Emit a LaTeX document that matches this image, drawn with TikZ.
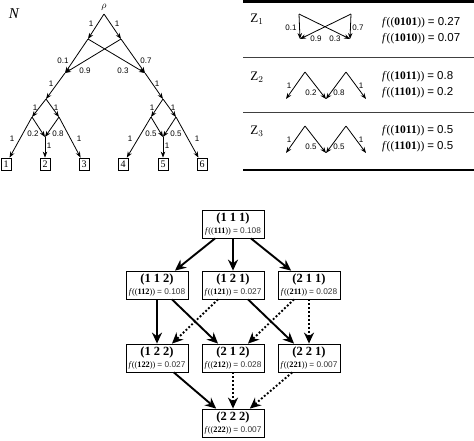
\documentclass[tikz,border=0pt]{standalone}
\usepackage{fontspec}
\setmainfont{Liberation Serif}
\newfontfamily\arialfont{Liberation Sans}
\usetikzlibrary{arrows.meta}
\newcommand{\fval}[2]{{\fontsize{8.3}{9}\selectfont\textit{f}((\textbf{#1})) {\arialfont\color{black!80} = #2}}}
\newcommand{\ftab}[2]{\textit{f}((\textbf{#1})) {\arialfont = #2}}
\begin{document}
\begin{tikzpicture}[x=1pt,y=-1pt,
	tr/.style={-{Stealth[length=6pt,width=4.5pt]},line width=0.8pt},
	wt/.style={font=\arialfont\fontsize{8}{9}\selectfont,inner sep=0pt},
	leaf/.style={draw,line width=0.8pt,minimum width=10pt,minimum height=12pt,inner sep=0pt,font=\fontsize{10}{10}\selectfont},
	ftxt/.style={right,inner sep=0pt,font=\fontsize{11.5}{12}\selectfont},
	zlab/.style={font=\fontsize{13}{14}\selectfont},
	lat/.style={draw,line width=0.8pt,minimum width=62pt,minimum height=28pt,inner sep=1pt,align=center,font=\fontsize{12.5}{12.5}\selectfont},
	sarr/.style={-{Stealth[length=11pt,width=10pt]},line width=1.9pt},
	darr/.style={-{Stealth[length=11pt,width=10pt]},line width=1.9pt,dotted}]
	\useasboundingbox (0,0) rectangle (474,440);

	% network N
	\node[font=\itshape\fontsize{15}{15}\selectfont] (nlab) at (14,14) {N};
	\node[font=\itshape\fontsize{10}{10}\selectfont] (rho) at (104,7) {$\rho$};
	\coordinate (rt) at (104,14);
	\coordinate (a) at (88,39);
	\coordinate (b) at (121,39);
	\coordinate (c) at (65,73);
	\coordinate (d) at (145,73);
	\coordinate (e) at (46,99);
	\coordinate (f) at (163,99);
	\coordinate (g) at (32,117);
	\coordinate (h) at (59,117);
	\coordinate (i) at (45,137);
	\coordinate (j) at (151,117);
	\coordinate (k) at (176,117);
	\coordinate (l) at (163,137);
	\node[leaf] (l1) at (6,164) {1};
	\node[leaf] (l2) at (45,164) {2};
	\node[leaf] (l3) at (84,164) {3};
	\node[leaf] (l4) at (123,164) {4};
	\node[leaf] (l5) at (163,164) {5};
	\node[leaf] (l6) at (202,164) {6};

	\draw[tr] (rt) -- (a);
	\draw[tr] (rt) -- (b);
	\draw[tr] (a) -- (c);
	\draw[tr] (a) -- (d);
	\draw[tr] (b) -- (c);
	\draw[tr] (b) -- (d);
	\draw[tr] (c) -- (e);
	\draw[tr] (d) -- (f);
	\draw[tr] (e) -- (g);
	\draw[tr] (e) -- (h);
	\draw[tr] (g) -- (l1);
	\draw[tr] (g) -- (i);
	\draw[tr] (h) -- (i);
	\draw[tr] (h) -- (l3);
	\draw[tr] (i) -- (l2);
	\draw[tr] (f) -- (j);
	\draw[tr] (f) -- (k);
	\draw[tr] (j) -- (l4);
	\draw[tr] (j) -- (l);
	\draw[tr] (k) -- (l);
	\draw[tr] (k) -- (l6);
	\draw[tr] (l) -- (l5);

	\node[wt] (w1) at (91,24) {1};
	\node[wt] (w2) at (117,24) {1};
	\node[wt] (w3) at (63,61) {0.1};
	\node[wt] (w4) at (85,71) {0.9};
	\node[wt] (w5) at (123,71) {0.3};
	\node[wt] (w6) at (146,61) {0.7};
	\node[wt] (w7) at (51,84) {1};
	\node[wt] (w8) at (157,84) {1};
	\node[wt] (w9) at (35,108) {1};
	\node[wt] (w10) at (56,108) {1};
	\node[wt] (w11) at (152,108) {1};
	\node[wt] (w12) at (173,108) {1};
	\node[wt] (w13) at (12,139) {1};
	\node[wt] (w14) at (33,134) {0.2};
	\node[wt] (w15) at (58,134) {0.8};
	\node[wt] (w16) at (79,139) {1};
	\node[wt] (w17) at (49,146) {1};
	\node[wt] (w18) at (130,139) {1};
	\node[wt] (w19) at (151,134) {0.5};
	\node[wt] (w20) at (176,134) {0.5};
	\node[wt] (w21) at (197,139) {1};
	\node[wt] (w22) at (167,146) {1};

	% table of Z
	\draw[line width=2.5pt] (243,1.5) -- (474,1.5);
	\draw[line width=0.8pt,black!75] (243,57) -- (474,57);
	\draw[line width=0.8pt,black!75] (243,112) -- (474,112);
	\draw[line width=2pt] (243,170) -- (474,170);

	\node[zlab] (z1) at (257,19) {Z$_1$};
	\coordinate (p1) at (299,14);
	\coordinate (p2) at (351,14);
	\coordinate (q1) at (300,39);
	\coordinate (q2) at (350,39);
	\draw[tr] (p1) -- (q1);
	\draw[tr] (p1) -- (q2);
	\draw[tr] (p2) -- (q2);
	\draw[tr] (p2) -- (q1);
	\node[wt] (x1) at (291,28) {0.1};
	\node[wt] (x2) at (358,28) {0.7};
	\node[wt] (x3) at (316,39) {0.9};
	\node[wt] (x4) at (335,39) {0.3};
	\node[ftxt] (fa) at (382,23) {\ftab{0101}{0.27}};
	\node[ftxt] (fb) at (382,39) {\ftab{1010}{0.07}};

	\node[zlab] (z2) at (257,77) {Z$_2$};
	\coordinate (u1) at (305,72);
	\coordinate (u2) at (346,72);
	\coordinate (v1) at (286,99);
	\coordinate (v2) at (326,99);
	\coordinate (v3) at (366,99);
	\draw[tr] (u1) -- (v1);
	\draw[tr] (u1) -- (v2);
	\draw[tr] (u2) -- (v2);
	\draw[tr] (u2) -- (v3);
	\node[wt] (y1) at (289,86) {1};
	\node[wt] (y2) at (311,93) {0.2};
	\node[wt] (y3) at (339,93) {0.8};
	\node[wt] (y4) at (361,86) {1};
	\node[ftxt] (fc) at (382,77) {\ftab{1011}{0.8}};
	\node[ftxt] (fd) at (382,93) {\ftab{1101}{0.2}};

	\node[zlab] (z3) at (257,131) {Z$_3$};
	\coordinate (s1) at (305,126);
	\coordinate (s2) at (346,126);
	\coordinate (t1) at (286,153);
	\coordinate (t2) at (326,153);
	\coordinate (t3) at (366,153);
	\draw[tr] (s1) -- (t1);
	\draw[tr] (s1) -- (t2);
	\draw[tr] (s2) -- (t2);
	\draw[tr] (s2) -- (t3);
	\node[wt] (r1) at (289,140) {1};
	\node[wt] (r2) at (311,147) {0.5};
	\node[wt] (r3) at (339,147) {0.5};
	\node[wt] (r4) at (361,140) {1};
	\node[ftxt] (fe) at (382,131) {\ftab{1011}{0.5}};
	\node[ftxt] (ff) at (382,147) {\ftab{1101}{0.5}};

	% lattice
	\node[lat] (n111) at (233,224) {\textbf{(1 1 1)}\\\fval{111}{0.108}};
	\node[lat] (n112) at (157,285) {\textbf{(1 1 2)}\\\fval{112}{0.108}};
	\node[lat] (n121) at (233,285) {\textbf{(1 2 1)}\\\fval{121}{0.027}};
	\node[lat] (n211) at (309,285) {\textbf{(2 1 1)}\\\fval{211}{0.028}};
	\node[lat] (n122) at (157,358) {\textbf{(1 2 2)}\\\fval{122}{0.027}};
	\node[lat] (n212) at (233,358) {\textbf{(2 1 2)}\\\fval{212}{0.028}};
	\node[lat] (n221) at (309,358) {\textbf{(2 2 1)}\\\fval{221}{0.007}};
	\node[lat] (n222) at (233,423) {\textbf{(2 2 2)}\\\fval{222}{0.007}};

	\draw[sarr] (n111) -- (n112);
	\draw[sarr] (n111) -- (n121);
	\draw[sarr] (n111) -- (n211);
	\draw[sarr] (n112) -- (n122);
	\draw[sarr] (n112) -- (n212);
	\draw[darr] (n121) -- (n122);
	\draw[sarr] (n121) -- (n221);
	\draw[darr] (n211) -- (n212);
	\draw[darr] (n211) -- (n221);
	\draw[sarr] (n122) -- (n222);
	\draw[darr] (n212) -- (n222);
	\draw[darr] (n221) -- (n222);
\end{tikzpicture}
\end{document}
